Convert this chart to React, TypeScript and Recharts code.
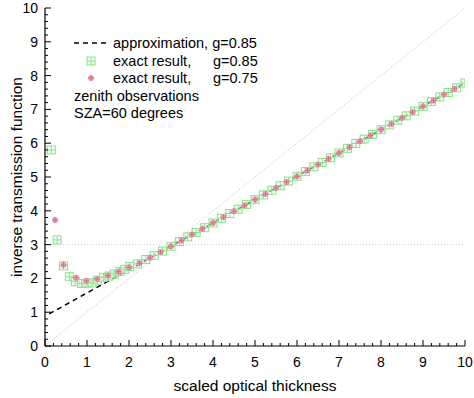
import { ComposedChart, Line, Scatter, XAxis, YAxis, ReferenceLine } from 'recharts'

const majorTicks = [0, 1, 2, 3, 4, 5, 6, 7, 8, 9, 10]
const allTicks = Array.from({ length: 51 }, (_, i) => Math.round(i * 2) / 10)

// approximation, g=0.85 (dashed)
const approxX = [0.1, 2, 4, 6, 8, 10]
const approxY = [0.95, 2.26, 3.64, 5.02, 6.4, 7.78]

// exact result, g=0.85 (green squares)
const greenX = [
  0.15, 0.29, 0.44, 0.58, 0.72, 0.87, 1.0, 1.12, 1.25, 1.39, 1.52, 1.65, 1.78, 1.9, 2.02,
  2.2, 2.4, 2.6, 2.8, 3.0, 3.2, 3.4, 3.6, 3.8, 4.0, 4.2, 4.4, 4.6, 4.8, 5.0,
  5.2, 5.4, 5.6, 5.8, 6.0, 6.2, 6.4, 6.6, 6.8, 7.0, 7.2, 7.4, 7.6, 7.8, 8.0,
  8.2, 8.4, 8.6, 8.8, 9.0, 9.2, 9.4, 9.6, 9.8, 10.0,
]
const greenY = [
  5.8, 3.14, 2.37, 2.05, 1.9, 1.85, 1.86, 1.87, 1.95, 2.03, 2.07, 2.13, 2.2, 2.27, 2.35,
  2.43, 2.56, 2.68, 2.81, 2.95, 3.09, 3.23, 3.36, 3.5, 3.64, 3.78, 3.92, 4.05, 4.19, 4.33,
  4.47, 4.61, 4.74, 4.88, 5.02, 5.16, 5.3, 5.43, 5.57, 5.71, 5.85, 5.99, 6.12, 6.26, 6.4,
  6.54, 6.68, 6.81, 6.95, 7.09, 7.23, 7.37, 7.5, 7.64, 7.78,
]

// exact result, g=0.75 (pink)
const pinkX = [
  0.24, 0.44, 0.74, 0.99, 1.24, 1.5, 1.75, 2.0, 2.25, 2.5, 2.75, 3.0, 3.25, 3.5, 3.75,
  4.0, 4.25, 4.5, 4.75, 5.0, 5.25, 5.5, 5.75, 6.0, 6.25, 6.5, 6.75, 7.0, 7.25, 7.5,
  7.75, 8.0, 8.25, 8.5, 8.75, 9.0, 9.25, 9.5, 9.75,
]
const pinkY = [
  3.73, 2.4, 2.02, 1.93, 1.98, 2.08, 2.2, 2.33, 2.45, 2.61, 2.78, 2.95, 3.12, 3.3, 3.47,
  3.64, 3.81, 3.99, 4.16, 4.33, 4.5, 4.68, 4.85, 5.02, 5.19, 5.37, 5.54, 5.71, 5.88, 6.06,
  6.23, 6.4, 6.57, 6.75, 6.92, 7.09, 7.26, 7.44, 7.61,
]

const approxData = approxX.map((x, i) => ({ x, y: approxY[i] }))
const greenData = greenX.map((x, i) => ({ x, y: greenY[i] }))
const pinkData = pinkX.map((x, i) => ({ x, y: pinkY[i] }))

const FONT = '"Liberation Sans", Arial, sans-serif'
const GREEN = '#86e486'
const PINK = '#e6809e'

const isMajor = (v: number) => majorTicks.some((m) => Math.abs(v - m) < 1e-6)

function GreenMark({ cx, cy }: any) {
  if (cx == null || cy == null) return null
  return (
    <g stroke={GREEN} strokeWidth={1} fill="none">
      <rect x={cx - 4} y={cy - 4} width={8} height={8} fill="#eefcee" fillOpacity={0.5} />
      <line x1={cx - 4} x2={cx + 4} y1={cy} y2={cy} />
      <line x1={cx} x2={cx} y1={cy - 4} y2={cy + 4} />
    </g>
  )
}

function PinkMark({ cx, cy }: any) {
  if (cx == null || cy == null) return null
  return (
    <g>
      <circle cx={cx} cy={cy} r={2.6} fill="#f2a6bc" stroke={PINK} strokeWidth={0.8} />
      <line x1={cx - 2.5} x2={cx + 2.5} y1={cy} y2={cy} stroke="#c85a78" strokeWidth={0.7} />
      <line x1={cx} x2={cx} y1={cy - 2.5} y2={cy + 2.5} stroke="#c85a78" strokeWidth={0.7} />
    </g>
  )
}

function BottomTick({ x, y, payload }: any) {
  const major = isMajor(payload.value)
  return (
    <g>
      <line x1={x} x2={x} y1={y} y2={y - (major ? 6 : 3)} stroke="#000" />
      {major && (
        <text x={x} y={y + 21} textAnchor="middle" fontSize={14} fill="#000" fontFamily={FONT}>
          {payload.value}
        </text>
      )}
    </g>
  )
}

function TopTick({ x, y, payload }: any) {
  const major = isMajor(payload.value)
  return <line x1={x} x2={x} y1={y} y2={y + (major ? 6 : 3)} stroke="#000" />
}

function LeftTick({ x, y, payload }: any) {
  const major = isMajor(payload.value)
  return (
    <g>
      <line x1={x} x2={x + (major ? 6 : 3)} y1={y} y2={y} stroke="#000" />
      {major && (
        <text x={x - 7} y={y + 5} textAnchor="end" fontSize={14} fill="#000" fontFamily={FONT}>
          {payload.value}
        </text>
      )}
    </g>
  )
}

function RightTick({ x, y, payload }: any) {
  const major = isMajor(payload.value)
  return <line x1={x} x2={x - (major ? 6 : 3)} y1={y} y2={y} stroke="#000" />
}

function XTitle({ viewBox }: any) {
  const cx = viewBox.x + viewBox.width / 2
  return (
    <text x={cx} y={viewBox.y + 45} textAnchor="middle" fontSize={15.5} fill="#000" fontFamily={FONT}>
      scaled optical thickness
    </text>
  )
}

function YTitle({ viewBox }: any) {
  const cx = viewBox.x + 16
  const cy = viewBox.y + viewBox.height / 2
  return (
    <text
      x={cx}
      y={cy}
      transform={`rotate(-90 ${cx} ${cy})`}
      textAnchor="middle"
      dominantBaseline="central"
      fontSize={15.5}
      fill="#000"
      fontFamily={FONT}
    >
      inverse transmission function
    </text>
  )
}

function LegendBox() {
  const t = { fontSize: 14.5, fill: '#000', fontFamily: FONT, dominantBaseline: 'central' as const }
  return (
    <svg
      width={260}
      height={130}
      style={{ position: 'absolute', left: 0, top: 0, display: 'block', pointerEvents: 'none' }}
    >
      <line x1={74} x2={110} y1={43} y2={43} stroke="#000" strokeWidth={1.5} strokeDasharray="5 4" />
      <text x={113} y={43} {...t}>approximation, g=0.85</text>
      <GreenMark cx={91} cy={61} />
      <text x={113} y={61} {...t}>exact result,</text>
      <text x={213} y={61} {...t}>g=0.85</text>
      <PinkMark cx={91} cy={78} />
      <text x={113} y={78} {...t}>exact result,</text>
      <text x={213} y={78} {...t}>g=0.75</text>
      <text x={74} y={96} {...t}>zenith observations</text>
      <text x={74} y={113} {...t}>SZA=60 degrees</text>
    </svg>
  )
}

export default function App() {
  return (
    <div style={{ position: 'absolute', left: 0, top: 0, width: 474, height: 398, background: '#fff' }}>
      <ComposedChart
        width={474}
        height={398}
        margin={{ top: 8, right: 9, bottom: 0, left: 0 }}
        style={{ fontFamily: FONT }}
      >
        <XAxis
          dataKey="x"
          type="number"
          domain={[0, 10]}
          ticks={allTicks}
          interval={0}
          allowDataOverflow
          height={52}
          tickLine={false}
          tickSize={0}
          tickMargin={0}
          tick={<BottomTick />}
          axisLine={{ stroke: '#000', strokeWidth: 1.2 }}
          label={<XTitle />}
        />
        <XAxis
          xAxisId="top"
          orientation="top"
          type="number"
          domain={[0, 10]}
          ticks={allTicks}
          interval={0}
          allowDataOverflow
          height={0}
          tickLine={false}
          tickSize={0}
          tickMargin={0}
          tick={<TopTick />}
          axisLine={{ stroke: '#000', strokeWidth: 1.2 }}
        />
        <YAxis
          type="number"
          domain={[0, 10]}
          ticks={allTicks}
          interval={0}
          allowDataOverflow
          width={45}
          tickLine={false}
          tickSize={0}
          tickMargin={0}
          tick={<LeftTick />}
          axisLine={{ stroke: '#000', strokeWidth: 1.2 }}
          label={<YTitle />}
        />
        <YAxis
          yAxisId="right"
          orientation="right"
          type="number"
          domain={[0, 10]}
          ticks={allTicks}
          interval={0}
          allowDataOverflow
          width={0}
          tickLine={false}
          tickSize={0}
          tickMargin={0}
          tick={<RightTick />}
          axisLine={{ stroke: '#000', strokeWidth: 1.2 }}
        />
        <ReferenceLine y={3} stroke="#d0d0d0" strokeDasharray="1 2" />
        <ReferenceLine
          segment={[{ x: 0, y: 0 }, { x: 10, y: 10 }]}
          stroke="#bdbdbd"
          strokeDasharray="1 2"
        />
        <Scatter data={greenData} dataKey="y" shape={<GreenMark />} isAnimationActive={false} />
        <Scatter data={pinkData} dataKey="y" shape={<PinkMark />} isAnimationActive={false} />
        <Line
          data={approxData}
          dataKey="y"
          type="linear"
          stroke="#000"
          strokeWidth={1.5}
          strokeDasharray="5 4"
          dot={false}
          activeDot={false}
          isAnimationActive={false}
        />
      </ComposedChart>
      <LegendBox />
    </div>
  )
}
